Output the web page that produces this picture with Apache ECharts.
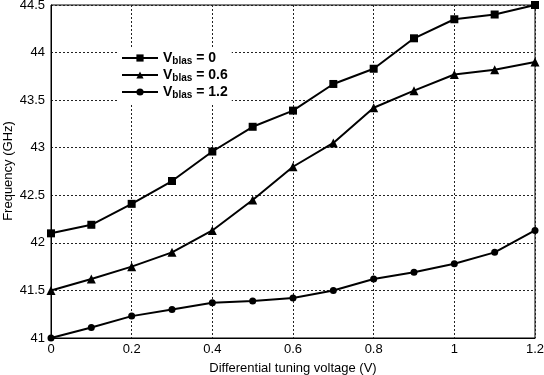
<!DOCTYPE html>
<html>
<head>
<meta charset="utf-8">
<script src="https://cdn.jsdelivr.net/npm/echarts@6/dist/echarts.min.js"></script>
<style>
html,body{margin:0;padding:0;background:#fff;}
#main{width:544px;height:375px;}
</style>
</head>
<body>
<div id="main"></div>
<script>
// tuning voltage (V)
var voltage = [0, 0.1, 0.2, 0.3, 0.4, 0.5, 0.6, 0.7, 0.8, 0.9, 1.0, 1.1, 1.2];
// frequency (GHz) for each bias
var bias0 = [42.1, 42.19, 42.41, 42.65, 42.96, 43.22, 43.39, 43.67, 43.83, 44.15, 44.35, 44.4, 44.5];
var bias06 = [41.5, 41.62, 41.75, 41.9, 42.13, 42.45, 42.8, 43.05, 43.42, 43.6, 43.77, 43.82, 43.9];
var bias12 = [41.0, 41.11, 41.23, 41.3, 41.37, 41.39, 41.42, 41.5, 41.62, 41.69, 41.78, 41.9, 42.13];
var seriesNames = ['0', '0.6', '1.2'];
var xTicks = ['0', '0.2', '0.4', '0.6', '0.8', '1', '1.2'];
var yTicks = ['41', '41.5', '42', '42.5', '43', '43.5', '44', '44.5'];

function pairs(ys) {
  return voltage.map(function (x, i) { return [x, ys[i]]; });
}

var myChart = echarts.init(document.getElementById('main'));
var font = 'Liberation Sans, Arial, sans-serif';

function mkSeries(name, ys, symbol, size) {
  return {
    name: name,
    type: 'line',
    data: pairs(ys),
    symbol: symbol,
    symbolSize: size,
    lineStyle: {color: '#000', width: 2},
    itemStyle: {color: '#000'},
    animation: false
  };
}

var option = {
  animation: false,
  grid: {left: 51, right: 9, top: 5, bottom: 37, show: true, borderColor: '#000', borderWidth: 1,
    outerBoundsMode: 'none', containLabel: false},
  // y axis title, drawn by hand so it is not pushed off the edge
  graphic: [{
    type: 'text',
    x: 8, y: 171,
    rotation: Math.PI / 2,
    style: {text: 'Frequency (GHz)', fontFamily: font, fontSize: 13, fill: '#000',
      align: 'center', verticalAlign: 'middle'}
  }],
  legend: {
    left: 117, top: 48,
    orient: 'vertical',
    backgroundColor: '#fff',
    padding: [3, 4, 3, 4],
    itemWidth: 36, itemHeight: 9, itemGap: 2,
    data: seriesNames,
    formatter: function (n) { return '{v|V}{s|blas}{v| = ' + n + '}'; },
    textStyle: {
      rich: {
        v: {fontFamily: font, fontWeight: 'bold', fontSize: 14, color: '#000'},
        s: {fontFamily: font, fontWeight: 'bold', fontSize: 10, color: '#000', padding: [6, 0, 0, 0]}
      }
    }
  },
  xAxis: {
    type: 'value', min: 0, max: 1.2, interval: 0.2,
    name: 'Differential tuning voltage (V)',
    nameLocation: 'middle', nameGap: 24,
    nameTextStyle: {fontFamily: font, fontSize: 13, color: '#000'},
    axisLine: {lineStyle: {color: '#000'}},
    axisTick: {show: false},
    axisLabel: {fontFamily: font, fontSize: 13, color: '#000', margin: 5,
      formatter: function (v) { return xTicks[Math.round(v / 0.2)]; }},
    splitLine: {lineStyle: {color: '#222', type: [2, 2], width: 1}}
  },
  yAxis: {
    type: 'value', min: 41, max: 44.5, interval: 0.5,
    axisLine: {show: true, lineStyle: {color: '#000'}},
    axisTick: {show: false},
    axisLabel: {fontFamily: font, fontSize: 13, color: '#000', margin: 6,
      formatter: function (v) { return yTicks[Math.round((v - 41) / 0.5)]; }},
    splitLine: {lineStyle: {color: '#222', type: [2, 2], width: 1}}
  },
  series: [
    mkSeries('0', bias0, 'rect', 8),
    mkSeries('0.6', bias06, 'triangle', 9),
    mkSeries('1.2', bias12, 'circle', 7)
  ]
};

myChart.setOption(option);
</script>
</body>
</html>
